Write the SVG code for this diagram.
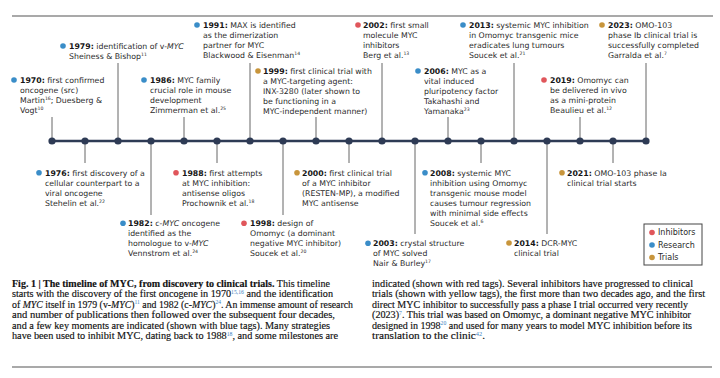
<svg xmlns="http://www.w3.org/2000/svg" width="720" height="378" viewBox="0 0 720 378">
<style>
.lbl{font-family:"DejaVu Sans","Liberation Sans",sans-serif;font-size:7.8px;fill:#2b2b2b}
.yr{font-weight:bold;fill:#151515}
.sup{font-size:4.6px}
.i{font-style:italic}
.stem{stroke:#555;stroke-width:0.9;fill:none}
.axis{stroke:#2e3b55;stroke-width:2.6}
.tdot{fill:#2e3b55}
.res{fill:#3a8dc8}
.inh{fill:#e0565b}
.tri{fill:#c8953b}
.rule{stroke:#555;stroke-width:1.2}
.cap{font-family:"Liberation Serif",serif;font-size:9.8px;fill:#111;stroke:#111;stroke-width:0.15}
.capb{font-weight:bold}
.csup{font-size:5.5px;fill:#3d7fc1;stroke:none}
.leg{font-family:"DejaVu Sans","Liberation Sans",sans-serif;font-size:8px;fill:#2b2b2b}
</style>
<rect width="720" height="378" fill="#fff"/>
<line class="rule" x1="12" y1="16" x2="713" y2="16"/>
<line class="rule" x1="12" y1="367" x2="712" y2="367"/>

<g id="connectors">
<line class="stem" x1="52" y1="117" x2="52" y2="141"/>
<line class="stem" x1="118" y1="63" x2="118" y2="141"/>
<line class="stem" x1="184" y1="117" x2="184" y2="141"/>
<line class="stem" x1="250" y1="63" x2="250" y2="141"/>
<line class="stem" x1="316" y1="117" x2="316" y2="141"/>
<line class="stem" x1="382" y1="63" x2="382" y2="141"/>
<line class="stem" x1="448" y1="117" x2="448" y2="141"/>
<line class="stem" x1="514" y1="63" x2="514" y2="141"/>
<line class="stem" x1="580" y1="117" x2="580" y2="141"/>
<line class="stem" x1="646" y1="63" x2="646" y2="141"/>
<line class="stem" x1="85" y1="141" x2="85" y2="163"/>
<line class="stem" x1="151" y1="141" x2="151" y2="215"/>
<line class="stem" x1="217" y1="141" x2="217" y2="163"/>
<line class="stem" x1="283" y1="141" x2="283" y2="215"/>
<line class="stem" x1="349" y1="141" x2="349" y2="163"/>
<line class="stem" x1="415" y1="141" x2="415" y2="234"/>
<line class="stem" x1="481" y1="141" x2="481" y2="163"/>
<line class="stem" x1="547" y1="141" x2="547" y2="234"/>
<line class="stem" x1="613" y1="141" x2="613" y2="163"/>
</g>

<g id="timeline">
<line class="axis" x1="52" y1="141" x2="646" y2="141"/>
<circle class="tdot" cx="52" cy="141" r="3.6"/>
<circle class="tdot" cx="85" cy="141" r="3.6"/>
<circle class="tdot" cx="118" cy="141" r="3.6"/>
<circle class="tdot" cx="151" cy="141" r="3.6"/>
<circle class="tdot" cx="184" cy="141" r="3.6"/>
<circle class="tdot" cx="217" cy="141" r="3.6"/>
<circle class="tdot" cx="250" cy="141" r="3.6"/>
<circle class="tdot" cx="283" cy="141" r="3.6"/>
<circle class="tdot" cx="316" cy="141" r="3.6"/>
<circle class="tdot" cx="349" cy="141" r="3.6"/>
<circle class="tdot" cx="382" cy="141" r="3.6"/>
<circle class="tdot" cx="415" cy="141" r="3.6"/>
<circle class="tdot" cx="448" cy="141" r="3.6"/>
<circle class="tdot" cx="481" cy="141" r="3.6"/>
<circle class="tdot" cx="514" cy="141" r="3.6"/>
<circle class="tdot" cx="547" cy="141" r="3.6"/>
<circle class="tdot" cx="580" cy="141" r="3.6"/>
<circle class="tdot" cx="613" cy="141" r="3.6"/>
<circle class="tdot" cx="646" cy="141" r="3.6"/>
</g>

<g id="n1970">
<circle class="res" cx="14" cy="80" r="2.8"/>
<text class="lbl"><tspan x="20" y="82.8"><tspan class="yr">1970:</tspan> first confirmed</tspan><tspan x="20" y="92.8">oncogene (src)</tspan><tspan x="20" y="102.8">Martin<tspan class="sup" dy="-3">16</tspan><tspan dy="3">; Duesberg &amp;</tspan></tspan><tspan x="20" y="112.8">Vogt<tspan class="sup" dy="-3">10</tspan></tspan></text>
</g>
<g id="n1979">
<circle class="res" cx="63" cy="46" r="2.8"/>
<text class="lbl"><tspan x="69" y="48.8"><tspan class="yr">1979:</tspan> identification of v-<tspan class="i">MYC</tspan></tspan><tspan x="69" y="58.8">Sheiness &amp; Bishop<tspan class="sup" dy="-3">11</tspan></tspan></text>
</g>
<g id="n1986">
<circle class="res" cx="144" cy="80" r="2.8"/>
<text class="lbl"><tspan x="150" y="82.8"><tspan class="yr">1986:</tspan> MYC family</tspan><tspan x="150" y="92.8">crucial role in mouse</tspan><tspan x="150" y="102.8">development</tspan><tspan x="150" y="112.8">Zimmerman et al.<tspan class="sup" dy="-3">25</tspan></tspan></text>
</g>
<g id="n1991">
<circle class="res" cx="197" cy="25" r="2.8"/>
<text class="lbl"><tspan x="203" y="27.8"><tspan class="yr">1991:</tspan> MAX is identified</tspan><tspan x="203" y="37.8">as the dimerization</tspan><tspan x="203" y="47.8">partner for MYC</tspan><tspan x="203" y="57.8">Blackwood &amp; Eisenman<tspan class="sup" dy="-3">14</tspan></tspan></text>
</g>
<g id="n1999">
<circle class="tri" cx="258" cy="71" r="2.8"/>
<text class="lbl"><tspan x="263" y="73.8"><tspan class="yr">1999:</tspan> first clinical trial with</tspan><tspan x="263" y="83.8">a MYC-targeting agent:</tspan><tspan x="263" y="93.8">INX-3280 (later shown to</tspan><tspan x="263" y="103.8">be functioning in a</tspan><tspan x="263" y="113.8">MYC-independent manner)</tspan></text>
</g>
<g id="n2002">
<circle class="inh" cx="358" cy="25" r="2.8"/>
<text class="lbl"><tspan x="363" y="27.8"><tspan class="yr">2002:</tspan> first small</tspan><tspan x="363" y="37.8">molecule MYC</tspan><tspan x="363" y="47.8">inhibitors</tspan><tspan x="363" y="57.8">Berg et al.<tspan class="sup" dy="-3">13</tspan></tspan></text>
</g>
<g id="n2006">
<circle class="res" cx="418" cy="71" r="2.8"/>
<text class="lbl"><tspan x="424" y="73.8"><tspan class="yr">2006:</tspan> MYC as a</tspan><tspan x="424" y="83.8">vital induced</tspan><tspan x="424" y="93.8">pluripotency factor</tspan><tspan x="424" y="103.8">Takahashi and</tspan><tspan x="424" y="113.8">Yamanaka<tspan class="sup" dy="-3">23</tspan></tspan></text>
</g>
<g id="n2013">
<circle class="res" cx="463" cy="25" r="2.8"/>
<text class="lbl"><tspan x="469" y="27.8"><tspan class="yr">2013:</tspan> systemic MYC inhibition</tspan><tspan x="469" y="37.8">in Omomyc transgenic mice</tspan><tspan x="469" y="47.8">eradicates lung tumours</tspan><tspan x="469" y="57.8">Soucek et al.<tspan class="sup" dy="-3">21</tspan></tspan></text>
</g>
<g id="n2019">
<circle class="inh" cx="544" cy="80" r="2.8"/>
<text class="lbl"><tspan x="550" y="82.8"><tspan class="yr">2019:</tspan> Omomyc can</tspan><tspan x="550" y="92.8">be delivered in vivo</tspan><tspan x="550" y="102.8">as a mini-protein</tspan><tspan x="550" y="112.8">Beaulieu et al.<tspan class="sup" dy="-3">12</tspan></tspan></text>
</g>
<g id="n2023">
<circle class="tri" cx="602" cy="25" r="2.8"/>
<text class="lbl"><tspan x="608" y="27.8"><tspan class="yr">2023:</tspan> OMO-103</tspan><tspan x="608" y="37.8">phase Ib clinical trial is</tspan><tspan x="608" y="47.8">successfully completed</tspan><tspan x="608" y="57.8">Garralda et al.<tspan class="sup" dy="-3">7</tspan></tspan></text>
</g>
<g id="n1976">
<circle class="res" cx="39" cy="172.7" r="2.8"/>
<text class="lbl"><tspan x="45" y="175.5"><tspan class="yr">1976:</tspan> first discovery of a</tspan><tspan x="45" y="185.5">cellular counterpart to a</tspan><tspan x="45" y="195.5">viral oncogene</tspan><tspan x="45" y="205.5">Stehelin et al.<tspan class="sup" dy="-3">22</tspan></tspan></text>
</g>
<g id="n1988">
<circle class="inh" cx="176" cy="172.7" r="2.8"/>
<text class="lbl"><tspan x="182" y="175.5"><tspan class="yr">1988:</tspan> first attempts</tspan><tspan x="182" y="185.5">at MYC inhibition:</tspan><tspan x="182" y="195.5">antisense oligos</tspan><tspan x="182" y="205.5">Prochownik et al.<tspan class="sup" dy="-3">18</tspan></tspan></text>
</g>
<g id="n2000">
<circle class="tri" cx="297" cy="172.7" r="2.8"/>
<text class="lbl"><tspan x="302" y="175.5"><tspan class="yr">2000:</tspan> first clinical trial</tspan><tspan x="302" y="185.5">of a MYC inhibitor</tspan><tspan x="302" y="195.5">(RESTEN-MP), a modified</tspan><tspan x="302" y="205.5">MYC antisense</tspan></text>
</g>
<g id="n2008">
<circle class="res" cx="425" cy="172.7" r="2.8"/>
<text class="lbl"><tspan x="430" y="175.5"><tspan class="yr">2008:</tspan> systemic MYC</tspan><tspan x="430" y="185.5">inhibition using Omomyc</tspan><tspan x="430" y="195.5">transgenic mouse model</tspan><tspan x="430" y="205.5">causes tumour regression</tspan><tspan x="430" y="215.5">with minimal side effects</tspan><tspan x="430" y="225.5">Soucek et al.<tspan class="sup" dy="-3">6</tspan></tspan></text>
</g>
<g id="n2021">
<circle class="tri" cx="562" cy="172.7" r="2.8"/>
<text class="lbl"><tspan x="567" y="175.5"><tspan class="yr">2021:</tspan> OMO-103 phase Ia</tspan><tspan x="567" y="185.5">clinical trial starts</tspan></text>
</g>
<g id="n1982">
<circle class="res" cx="123" cy="223.3" r="2.8"/>
<text class="lbl"><tspan x="128" y="226.1"><tspan class="yr">1982:</tspan> c-<tspan class="i">MYC</tspan> oncogene</tspan><tspan x="128" y="236.1">identified as the</tspan><tspan x="128" y="246.1">homologue to v-<tspan class="i">MYC</tspan></tspan><tspan x="128" y="256.1">Vennstrom et al.<tspan class="sup" dy="-3">24</tspan></tspan></text>
</g>
<g id="n1998">
<circle class="inh" cx="244" cy="223.3" r="2.8"/>
<text class="lbl"><tspan x="250" y="226.1"><tspan class="yr">1998:</tspan> design of</tspan><tspan x="250" y="236.1">Omomyc (a dominant</tspan><tspan x="250" y="246.1">negative MYC inhibitor)</tspan><tspan x="250" y="256.1">Soucek et al.<tspan class="sup" dy="-3">20</tspan></tspan></text>
</g>
<g id="n2003">
<circle class="res" cx="368" cy="243.3" r="2.8"/>
<text class="lbl"><tspan x="373" y="246.1"><tspan class="yr">2003:</tspan> crystal structure</tspan><tspan x="373" y="256.1">of MYC solved</tspan><tspan x="373" y="266.1">Nair &amp; Burley<tspan class="sup" dy="-3">17</tspan></tspan></text>
</g>
<g id="n2014">
<circle class="tri" cx="509" cy="243" r="2.8"/>
<text class="lbl"><tspan x="514" y="245.8"><tspan class="yr">2014:</tspan> DCR-MYC</tspan><tspan x="514" y="255.8">clinical trial</tspan></text>
</g>

<g id="legend">
<rect x="644" y="224" width="58" height="41" fill="#fff" stroke="#444" stroke-width="1"/>
<circle class="inh" cx="652" cy="232.5" r="2.8"/>
<text class="leg" x="658" y="235.3">Inhibitors</text>
<circle class="res" cx="652" cy="245" r="2.8"/>
<text class="leg" x="658" y="247.8">Research</text>
<circle class="tri" cx="652" cy="257.5" r="2.8"/>
<text class="leg" x="658" y="260.3">Trials</text>
</g>

<g id="caption">
<text class="cap" x="12" y="287" textLength="318" lengthAdjust="spacingAndGlyphs"><tspan class="capb">Fig. 1 | The timeline of MYC, from discovery to clinical trials.</tspan> This timeline</text>
<text class="cap" x="12" y="297.4" textLength="321" lengthAdjust="spacingAndGlyphs">starts with the discovery of the first oncogene in 1970<tspan class="csup" dy="-3.5">15,16</tspan><tspan dy="3.5"> and the identification</tspan></text>
<text class="cap" x="12" y="307.8" textLength="341" lengthAdjust="spacingAndGlyphs">of <tspan class="i">MYC</tspan> itself in 1979 (v-<tspan class="i">MYC</tspan>)<tspan class="csup" dy="-3.5">11</tspan><tspan dy="3.5"> and 1982 (c-</tspan><tspan class="i">MYC</tspan>)<tspan class="csup" dy="-3.5">24</tspan><tspan dy="3.5">. An immense amount of research</tspan></text>
<text class="cap" x="12" y="318.2" textLength="323" lengthAdjust="spacingAndGlyphs">and number of publications then followed over the subsequent four decades,</text>
<text class="cap" x="12" y="328.6" textLength="318" lengthAdjust="spacingAndGlyphs">and a few key moments are indicated (shown with blue tags). Many strategies</text>
<text class="cap" x="12" y="339" textLength="326" lengthAdjust="spacingAndGlyphs">have been used to inhibit MYC, dating back to 1988<tspan class="csup" dy="-3.5">18</tspan><tspan dy="3.5">, and some milestones are</tspan></text>
<text class="cap" x="372" y="287" textLength="321" lengthAdjust="spacingAndGlyphs">indicated (shown with red tags). Several inhibitors have progressed to clinical</text>
<text class="cap" x="372" y="297.4" textLength="333" lengthAdjust="spacingAndGlyphs">trials (shown with yellow tags), the first more than two decades ago, and the first</text>
<text class="cap" x="372" y="307.8" textLength="316" lengthAdjust="spacingAndGlyphs">direct MYC inhibitor to successfully pass a phase I trial occurred very recently</text>
<text class="cap" x="372" y="318.2" textLength="319" lengthAdjust="spacingAndGlyphs">(2023)<tspan class="csup" dy="-3.5">7</tspan><tspan dy="3.5">. This trial was based on Omomyc, a dominant negative MYC inhibitor</tspan></text>
<text class="cap" x="372" y="328.6" textLength="320" lengthAdjust="spacingAndGlyphs">designed in 1998<tspan class="csup" dy="-3.5">20</tspan><tspan dy="3.5"> and used for many years to model MYC inhibition before its</tspan></text>
<text class="cap" x="372" y="339" textLength="113" lengthAdjust="spacingAndGlyphs">translation to the clinic<tspan class="csup" dy="-3.5">42</tspan><tspan dy="3.5">.</tspan></text>
</g>
</svg>
